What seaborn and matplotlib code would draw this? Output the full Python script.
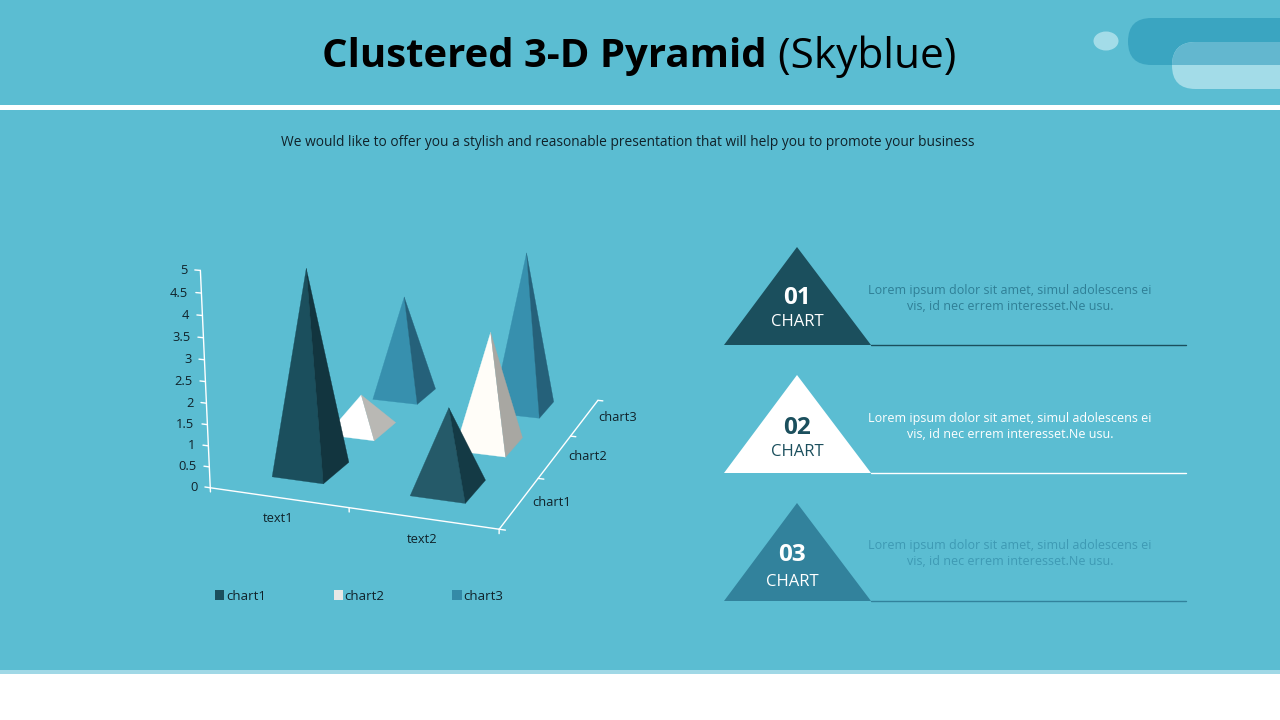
# plot.py - Clustered 3-D Pyramid (Skyblue)
import matplotlib
matplotlib.use('Agg')
import matplotlib.pyplot as plt
import seaborn as sns
from matplotlib.patches import Ellipse, FancyBboxPatch, Patch, Polygon, Rectangle
from mpl_toolkits.mplot3d import proj3d
from mpl_toolkits.mplot3d.art3d import Poly3DCollection

sns.set_theme(style='white')
plt.rcParams['font.family'] = ['Open Sans', 'DejaVu Sans']

# Dados
categorias = ['text1', 'text2']
series = ['chart1', 'chart2', 'chart3']
valores_chart1 = [4.8, 1.9]
valores_chart2 = [0.9, 2.85]
valores_chart3 = [2.75, 4.2]
ticks_z = [0, 0.5, 1, 1.5, 2, 2.5, 3, 3.5, 4, 4.5, 5]
ticks_z_txt = ['0', '0.5', '1', '1.5', '2', '2.5', '3', '3.5', '4', '4.5', '5']

titulo_a = 'Clustered 3-D Pyramid'
titulo_b = ' (Skyblue)'
subtitulo = 'We would like to offer you a stylish and reasonable presentation that will help you to promote your business'
lorem = 'Lorem ipsum dolor sit amet, simul adolescens ei\nvis, id nec errem interesset.Ne usu.'

# Cores (uma linha por serie, uma coluna por categoria)
fundo = '#5BBDD2'
texto = '#10222A'
frente = [['#1B4F5D', '#255A69'], ['#FFFFFF', '#FFFDF8'], ['#3790AE', '#3790AE']]
lado = [['#12353F', '#143A45'], ['#B9B8B4', '#A8A7A2'], ['#25617A', '#25617A']]
legenda_cor = sns.color_palette(['#1B4F5D', '#E8E8E6', '#348AA7'])

fig = plt.figure(figsize=(12.8, 7.2), dpi=100, facecolor=fundo)

# Camada de fundo em pixels
bg = fig.add_axes([0, 0, 1, 1], zorder=0)
bg.set_xlim(0, 1280)
bg.set_ylim(720, 0)
bg.axis('off')
bg.add_patch(Rectangle((0, 105), 1280, 5, color='white', lw=0))
bg.add_patch(Rectangle((0, 670), 1280, 5, color='#A0D8E6', lw=0))
bg.add_patch(Rectangle((0, 674), 1280, 46, color='white', lw=0))
bg.add_patch(Ellipse((1106, 41), 25, 19, color='#A3DCE8', lw=0))
escuro = FancyBboxPatch((1128, 18), 220, 47, boxstyle='round,pad=0,rounding_size=23.5',
                        color='#3AA5C1', lw=0)
bg.add_patch(escuro)
claro = FancyBboxPatch((1172, 42), 220, 47, boxstyle='round,pad=0,rounding_size=23.5',
                       color='#A3DCE8', lw=0)
bg.add_patch(claro)
sobre = FancyBboxPatch((1172, 42), 220, 47, boxstyle='round,pad=0,rounding_size=23.5',
                       color='#63B7CF', lw=0)
bg.add_patch(sobre)
sobre.set_clip_path(escuro)

bg.text(767, 57, titulo_a, ha='right', va='center', fontsize=28.9, fontweight='bold', color='black')
bg.text(767, 57, titulo_b, ha='left', va='center', fontsize=30.5, color='black')
bg.text(627.5, 143, subtitulo, ha='center', va='center', fontsize=9.9, color=texto)

# Painel direito
cores_tri = ['#1B4F5D', '#FFFFFF', '#32829C']
cores_num = ['white', '#1B4F5D', 'white']
cores_txt = ['#2F7F96', '#FFFFFF', '#3E9AB4']
bases = [345, 473, 601]
x_txt = [797, 797, 792]
y_num = [298, 428, 555]
y_chart = [322, 452, 582]
y_lorem = [298.5, 426.5, 553.5]
for i, base in enumerate(bases):
    bg.add_patch(Polygon([(724, base), (797, base - 98), (871, base)], closed=True, color=cores_tri[i], lw=0))
    bg.plot([871, 1186], [base - 0.5, base - 0.5], color=cores_tri[i], lw=1)
    bg.text(x_txt[i], y_num[i], f'0{i + 1}', ha='center', va='center', fontsize=17.5, fontweight='bold', color=cores_num[i])
    bg.text(x_txt[i], y_chart[i], 'CHART', ha='center', va='center', fontsize=12, color=cores_num[i])
    bg.text(1010, y_lorem[i], lorem, ha='center', va='center', fontsize=9.0, color=cores_txt[i], linespacing=1.33)

# Grafico 3D
ax = fig.add_axes([0.034, 0.1335, 0.58, 0.76], projection='3d', zorder=1)
ax.patch.set_alpha(0)
ax.set_axis_off()
ax.computed_zorder = False
ax.set_proj_type('persp', focal_length=0.45)
ax.view_init(elev=15.5, azim=-70)
ax.set_box_aspect((0.99, 1.35, 0.73), zoom=0.913)

# Eixos brancos
ax.plot([0, 2], [0, 0], [0, 0], color='white', lw=1, zorder=1)
ax.plot([2, 2], [0, 3], [0, 0], color='white', lw=1, zorder=1)
ax.plot([0, 0], [0, 0], [0, 5], color='white', lw=1, zorder=1)
for z in ticks_z:
    ax.plot([-0.04, 0], [0, 0], [z, z], color='white', lw=1, zorder=1)
for x in range(3):
    ax.plot([x, x], [0, 0], [0, -0.1], color='white', lw=1, zorder=1)
for y in range(4):
    ax.plot([2, 2.04], [y, y], [0, 0], color='white', lw=1, zorder=1)


def pyramid(ax, x, y, h, cor_f, cor_l, larg=0.19, ly=0.24):
    topo = (x, y, h)
    a = (x - larg, y - ly, 0)
    b = (x + larg, y - ly, 0)
    c = (x + larg, y + ly, 0)
    ax.add_collection3d(Poly3DCollection([[a, b, topo]], facecolor=cor_f, edgecolor=cor_f, linewidth=0.2, zorder=5))
    ax.add_collection3d(Poly3DCollection([[b, c, topo]], facecolor=cor_l, edgecolor=cor_l, linewidth=0.2, zorder=5))


# De tras para frente
tabela = [valores_chart1, valores_chart2, valores_chart3]
for j in [2, 1, 0]:
    for i in range(len(categorias)):
        pyramid(ax, i + 0.48, j + 0.6, tabela[j][i], frente[j][i], lado[j][i])

ax.set_xlim(0, 2)
ax.set_ylim(0, 3)
ax.set_zlim(0, 5)

# Rotulos: posicao 3D projetada para pixels da figura
fig.canvas.draw()


def para_pixels(x, y, z):
    px, py, _ = proj3d.proj_transform(x, y, z, ax.get_proj())
    d = ax.transData.transform((px, py))
    return d[0], 720 - d[1]


for z, txt in zip(ticks_z, ticks_z_txt):
    px, py = para_pixels(0, 0, z)
    bg.text(px - 13, py, txt, ha='right', va='center', fontsize=9.3, color=texto)
for i, c in enumerate(categorias):
    px, py = para_pixels(i + 0.5, 0, 0)
    bg.text(px, py + 21, c, ha='center', va='center', fontsize=9.3, color=texto)
for j, s in enumerate(series):
    px, py = para_pixels(2, j + 0.5, 0)
    bg.text(px + 13, py, s, ha='left', va='center', fontsize=9.3, color=texto)

# Legenda
handles = [Patch(facecolor=legenda_cor[k], edgecolor='none', label=s) for k, s in enumerate(series)]
bg.legend(handles=handles, loc='center left', bbox_to_anchor=(203 / 1280, 1 - 596 / 720), bbox_transform=fig.transFigure,
          ncol=3, frameon=False, fontsize=9.5, handlelength=0.7, handleheight=0.7, handletextpad=0.15,
          columnspacing=5.12, labelcolor=texto)

fig.savefig('out.png', dpi=100, facecolor=fundo)
